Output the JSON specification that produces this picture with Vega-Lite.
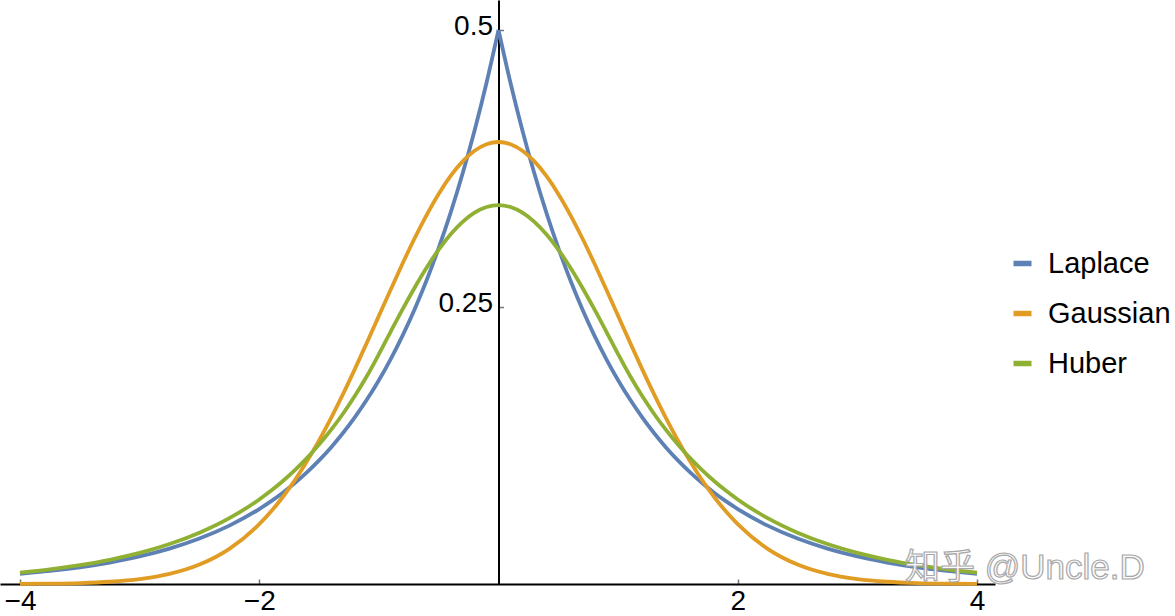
{
  "$schema": "https://vega.github.io/schema/vega-lite/v6.json",
  "width": 995,
  "height": 584,
  "autosize": {"type": "none"},
  "padding": {"left": 0, "top": 0, "right": 180, "bottom": 32},
  "background": "white",
  "layer": [
    {
      "data": {
        "values": [
          {"s": "Laplace", "b": "left", "x": -4, "y": 0.00916}, {"s": "Laplace", "b": "left", "x": -3.75, "y": 0.01176}, {"s": "Laplace", "b": "left", "x": -3.5, "y": 0.0151},
          {"s": "Laplace", "b": "left", "x": -3.25, "y": 0.01939}, {"s": "Laplace", "b": "left", "x": -3, "y": 0.02489}, {"s": "Laplace", "b": "left", "x": -2.75, "y": 0.03196},
          {"s": "Laplace", "b": "left", "x": -2.5, "y": 0.04104}, {"s": "Laplace", "b": "left", "x": -2.25, "y": 0.0527}, {"s": "Laplace", "b": "left", "x": -2, "y": 0.06767},
          {"s": "Laplace", "b": "left", "x": -1.9, "y": 0.07478}, {"s": "Laplace", "b": "left", "x": -1.8, "y": 0.08265}, {"s": "Laplace", "b": "left", "x": -1.7, "y": 0.09134},
          {"s": "Laplace", "b": "left", "x": -1.6, "y": 0.10095}, {"s": "Laplace", "b": "left", "x": -1.5, "y": 0.11157}, {"s": "Laplace", "b": "left", "x": -1.4, "y": 0.1233},
          {"s": "Laplace", "b": "left", "x": -1.3, "y": 0.13627}, {"s": "Laplace", "b": "left", "x": -1.2, "y": 0.1506}, {"s": "Laplace", "b": "left", "x": -1.1, "y": 0.16644},
          {"s": "Laplace", "b": "left", "x": -1, "y": 0.18394}, {"s": "Laplace", "b": "left", "x": -0.9, "y": 0.20328}, {"s": "Laplace", "b": "left", "x": -0.8, "y": 0.22466},
          {"s": "Laplace", "b": "left", "x": -0.7, "y": 0.24829}, {"s": "Laplace", "b": "left", "x": -0.6, "y": 0.27441}, {"s": "Laplace", "b": "left", "x": -0.5, "y": 0.30327},
          {"s": "Laplace", "b": "left", "x": -0.4, "y": 0.33516}, {"s": "Laplace", "b": "left", "x": -0.3, "y": 0.37041}, {"s": "Laplace", "b": "left", "x": -0.2, "y": 0.40937},
          {"s": "Laplace", "b": "left", "x": -0.1, "y": 0.45242}, {"s": "Laplace", "b": "left", "x": 0, "y": 0.5},
          {"s": "Laplace", "b": "right", "x": 0, "y": 0.5},
          {"s": "Laplace", "b": "right", "x": 0.1, "y": 0.45242}, {"s": "Laplace", "b": "right", "x": 0.2, "y": 0.40937}, {"s": "Laplace", "b": "right", "x": 0.3, "y": 0.37041},
          {"s": "Laplace", "b": "right", "x": 0.4, "y": 0.33516}, {"s": "Laplace", "b": "right", "x": 0.5, "y": 0.30327}, {"s": "Laplace", "b": "right", "x": 0.6, "y": 0.27441},
          {"s": "Laplace", "b": "right", "x": 0.7, "y": 0.24829}, {"s": "Laplace", "b": "right", "x": 0.8, "y": 0.22466}, {"s": "Laplace", "b": "right", "x": 0.9, "y": 0.20328},
          {"s": "Laplace", "b": "right", "x": 1, "y": 0.18394}, {"s": "Laplace", "b": "right", "x": 1.1, "y": 0.16644}, {"s": "Laplace", "b": "right", "x": 1.2, "y": 0.1506},
          {"s": "Laplace", "b": "right", "x": 1.3, "y": 0.13627}, {"s": "Laplace", "b": "right", "x": 1.4, "y": 0.1233}, {"s": "Laplace", "b": "right", "x": 1.5, "y": 0.11157},
          {"s": "Laplace", "b": "right", "x": 1.6, "y": 0.10095}, {"s": "Laplace", "b": "right", "x": 1.7, "y": 0.09134}, {"s": "Laplace", "b": "right", "x": 1.8, "y": 0.08265},
          {"s": "Laplace", "b": "right", "x": 1.9, "y": 0.07478}, {"s": "Laplace", "b": "right", "x": 2, "y": 0.06767}, {"s": "Laplace", "b": "right", "x": 2.25, "y": 0.0527},
          {"s": "Laplace", "b": "right", "x": 2.5, "y": 0.04104}, {"s": "Laplace", "b": "right", "x": 2.75, "y": 0.03196}, {"s": "Laplace", "b": "right", "x": 3, "y": 0.02489},
          {"s": "Laplace", "b": "right", "x": 3.25, "y": 0.01939}, {"s": "Laplace", "b": "right", "x": 3.5, "y": 0.0151}, {"s": "Laplace", "b": "right", "x": 3.75, "y": 0.01176},
          {"s": "Laplace", "b": "right", "x": 4, "y": 0.00916},

          {"s": "Gaussian", "x": -4, "y": 0.00013}, {"s": "Gaussian", "x": -3.75, "y": 0.00035}, {"s": "Gaussian", "x": -3.5, "y": 0.00087},
          {"s": "Gaussian", "x": -3.25, "y": 0.00203}, {"s": "Gaussian", "x": -3, "y": 0.00443}, {"s": "Gaussian", "x": -2.75, "y": 0.00909},
          {"s": "Gaussian", "x": -2.5, "y": 0.01753}, {"s": "Gaussian", "x": -2.25, "y": 0.03174}, {"s": "Gaussian", "x": -2, "y": 0.05399},
          {"s": "Gaussian", "x": -1.9, "y": 0.06562}, {"s": "Gaussian", "x": -1.8, "y": 0.07895}, {"s": "Gaussian", "x": -1.7, "y": 0.09405},
          {"s": "Gaussian", "x": -1.6, "y": 0.11092}, {"s": "Gaussian", "x": -1.5, "y": 0.12952}, {"s": "Gaussian", "x": -1.4, "y": 0.14973},
          {"s": "Gaussian", "x": -1.3, "y": 0.17137}, {"s": "Gaussian", "x": -1.2, "y": 0.19419}, {"s": "Gaussian", "x": -1.1, "y": 0.21785},
          {"s": "Gaussian", "x": -1, "y": 0.24197}, {"s": "Gaussian", "x": -0.9, "y": 0.26609}, {"s": "Gaussian", "x": -0.8, "y": 0.28969},
          {"s": "Gaussian", "x": -0.7, "y": 0.31225}, {"s": "Gaussian", "x": -0.6, "y": 0.33322}, {"s": "Gaussian", "x": -0.5, "y": 0.35207},
          {"s": "Gaussian", "x": -0.4, "y": 0.36827}, {"s": "Gaussian", "x": -0.3, "y": 0.38139}, {"s": "Gaussian", "x": -0.2, "y": 0.39104},
          {"s": "Gaussian", "x": -0.1, "y": 0.39695}, {"s": "Gaussian", "x": 0, "y": 0.39894},
          {"s": "Gaussian", "x": 0.1, "y": 0.39695}, {"s": "Gaussian", "x": 0.2, "y": 0.39104}, {"s": "Gaussian", "x": 0.3, "y": 0.38139},
          {"s": "Gaussian", "x": 0.4, "y": 0.36827}, {"s": "Gaussian", "x": 0.5, "y": 0.35207}, {"s": "Gaussian", "x": 0.6, "y": 0.33322},
          {"s": "Gaussian", "x": 0.7, "y": 0.31225}, {"s": "Gaussian", "x": 0.8, "y": 0.28969}, {"s": "Gaussian", "x": 0.9, "y": 0.26609},
          {"s": "Gaussian", "x": 1, "y": 0.24197}, {"s": "Gaussian", "x": 1.1, "y": 0.21785}, {"s": "Gaussian", "x": 1.2, "y": 0.19419},
          {"s": "Gaussian", "x": 1.3, "y": 0.17137}, {"s": "Gaussian", "x": 1.4, "y": 0.14973}, {"s": "Gaussian", "x": 1.5, "y": 0.12952},
          {"s": "Gaussian", "x": 1.6, "y": 0.11092}, {"s": "Gaussian", "x": 1.7, "y": 0.09405}, {"s": "Gaussian", "x": 1.8, "y": 0.07895},
          {"s": "Gaussian", "x": 1.9, "y": 0.06562}, {"s": "Gaussian", "x": 2, "y": 0.05399}, {"s": "Gaussian", "x": 2.25, "y": 0.03174},
          {"s": "Gaussian", "x": 2.5, "y": 0.01753}, {"s": "Gaussian", "x": 2.75, "y": 0.00909}, {"s": "Gaussian", "x": 3, "y": 0.00443},
          {"s": "Gaussian", "x": 3.25, "y": 0.00203}, {"s": "Gaussian", "x": 3.5, "y": 0.00087}, {"s": "Gaussian", "x": 3.75, "y": 0.00035},
          {"s": "Gaussian", "x": 4, "y": 0.00013},

          {"s": "Huber", "x": -4, "y": 0.01033}, {"s": "Huber", "x": -3.75, "y": 0.01326}, {"s": "Huber", "x": -3.5, "y": 0.01703},
          {"s": "Huber", "x": -3.25, "y": 0.02186}, {"s": "Huber", "x": -3, "y": 0.02807}, {"s": "Huber", "x": -2.75, "y": 0.03604},
          {"s": "Huber", "x": -2.5, "y": 0.04628}, {"s": "Huber", "x": -2.25, "y": 0.05942}, {"s": "Huber", "x": -2, "y": 0.0763},
          {"s": "Huber", "x": -1.9, "y": 0.08433}, {"s": "Huber", "x": -1.8, "y": 0.0932}, {"s": "Huber", "x": -1.7, "y": 0.103},
          {"s": "Huber", "x": -1.6, "y": 0.11383}, {"s": "Huber", "x": -1.5, "y": 0.1258}, {"s": "Huber", "x": -1.4, "y": 0.13903},
          {"s": "Huber", "x": -1.3, "y": 0.15365}, {"s": "Huber", "x": -1.2, "y": 0.16981}, {"s": "Huber", "x": -1.1, "y": 0.18767},
          {"s": "Huber", "x": -1, "y": 0.20741}, {"s": "Huber", "x": -0.9, "y": 0.22808}, {"s": "Huber", "x": -0.8, "y": 0.24831},
          {"s": "Huber", "x": -0.7, "y": 0.26765}, {"s": "Huber", "x": -0.6, "y": 0.28563}, {"s": "Huber", "x": -0.5, "y": 0.30178},
          {"s": "Huber", "x": -0.4, "y": 0.31567}, {"s": "Huber", "x": -0.3, "y": 0.32691}, {"s": "Huber", "x": -0.2, "y": 0.33519},
          {"s": "Huber", "x": -0.1, "y": 0.34025}, {"s": "Huber", "x": 0, "y": 0.34196},
          {"s": "Huber", "x": 0.1, "y": 0.34025}, {"s": "Huber", "x": 0.2, "y": 0.33519}, {"s": "Huber", "x": 0.3, "y": 0.32691},
          {"s": "Huber", "x": 0.4, "y": 0.31567}, {"s": "Huber", "x": 0.5, "y": 0.30178}, {"s": "Huber", "x": 0.6, "y": 0.28563},
          {"s": "Huber", "x": 0.7, "y": 0.26765}, {"s": "Huber", "x": 0.8, "y": 0.24831}, {"s": "Huber", "x": 0.9, "y": 0.22808},
          {"s": "Huber", "x": 1, "y": 0.20741}, {"s": "Huber", "x": 1.1, "y": 0.18767}, {"s": "Huber", "x": 1.2, "y": 0.16981},
          {"s": "Huber", "x": 1.3, "y": 0.15365}, {"s": "Huber", "x": 1.4, "y": 0.13903}, {"s": "Huber", "x": 1.5, "y": 0.1258},
          {"s": "Huber", "x": 1.6, "y": 0.11383}, {"s": "Huber", "x": 1.7, "y": 0.103}, {"s": "Huber", "x": 1.8, "y": 0.0932},
          {"s": "Huber", "x": 1.9, "y": 0.08433}, {"s": "Huber", "x": 2, "y": 0.0763}, {"s": "Huber", "x": 2.25, "y": 0.05942},
          {"s": "Huber", "x": 2.5, "y": 0.04628}, {"s": "Huber", "x": 2.75, "y": 0.03604}, {"s": "Huber", "x": 3, "y": 0.02807},
          {"s": "Huber", "x": 3.25, "y": 0.02186}, {"s": "Huber", "x": 3.5, "y": 0.01703}, {"s": "Huber", "x": 3.75, "y": 0.01326},
          {"s": "Huber", "x": 4, "y": 0.01033}
        ]
      },
      "mark": {"type": "line", "strokeWidth": 3.8, "strokeJoin": "round", "interpolate": "monotone"},
      "encoding": {
        "x": {
          "field": "x",
          "type": "quantitative",
          "title": null,
          "scale": {"domain": [-4.1672, 4.1505], "nice": false, "zero": false},
          "axis": {
            "values": [-4, -2, 2, 4],
            "format": "d",
            "tickSize": -5,
            "labelPadding": 8
          }
        },
        "y": {
          "field": "y",
          "type": "quantitative",
          "title": null,
          "scale": {"domain": [0, 0.52708], "nice": false},
          "axis": {
            "offset": -498.5,
            "values": [0.25, 0.5],
            "format": "~g",
            "tickSize": -5,
            "labelPadding": 11,
            "labelBaseline": "alphabetic",
            "labelOffset": 4
          }
        },
        "detail": {"field": "b"},
        "color": {
          "field": "s",
          "type": "nominal",
          "scale": {
            "domain": ["Laplace", "Gaussian", "Huber"],
            "range": ["#5e81b5", "#e19c24", "#8fb032"]
          },
          "legend": {
            "title": null,
            "orient": "none",
            "legendX": 1008,
            "legendY": 249,
            "padding": 0,
            "symbolType": "stroke",
            "symbolSize": 324,
            "symbolStrokeWidth": 5.5,
            "labelFont": "Liberation Sans",
            "labelFontSize": 29,
            "labelColor": "black",
            "labelOffset": 11,
            "rowPadding": 20
          }
        }
      }
    },
    {
      "data": {"values": [{"x": 4.4, "y": 0.0144, "t": "知乎 @Uncle.D"}]},
      "mark": {
        "type": "text",
        "font": "Liberation Sans, Noto Sans CJK SC",
        "fontSize": 35,
        "fill": "#fafafa",
        "stroke": "#a8a8a8",
        "strokeWidth": 1.2,
        "align": "center",
        "baseline": "middle"
      },
      "encoding": {
        "x": {"field": "x", "type": "quantitative"},
        "y": {"field": "y", "type": "quantitative"},
        "text": {"field": "t"}
      }
    }
  ],
  "config": {
    "view": {"stroke": null},
    "axis": {
      "grid": false,
      "domainColor": "black",
      "domainWidth": 2,
      "tickColor": "#777777",
      "tickWidth": 1.5,
      "labelFont": "Liberation Sans",
      "labelFontSize": 28,
      "labelColor": "black"
    }
  }
}
